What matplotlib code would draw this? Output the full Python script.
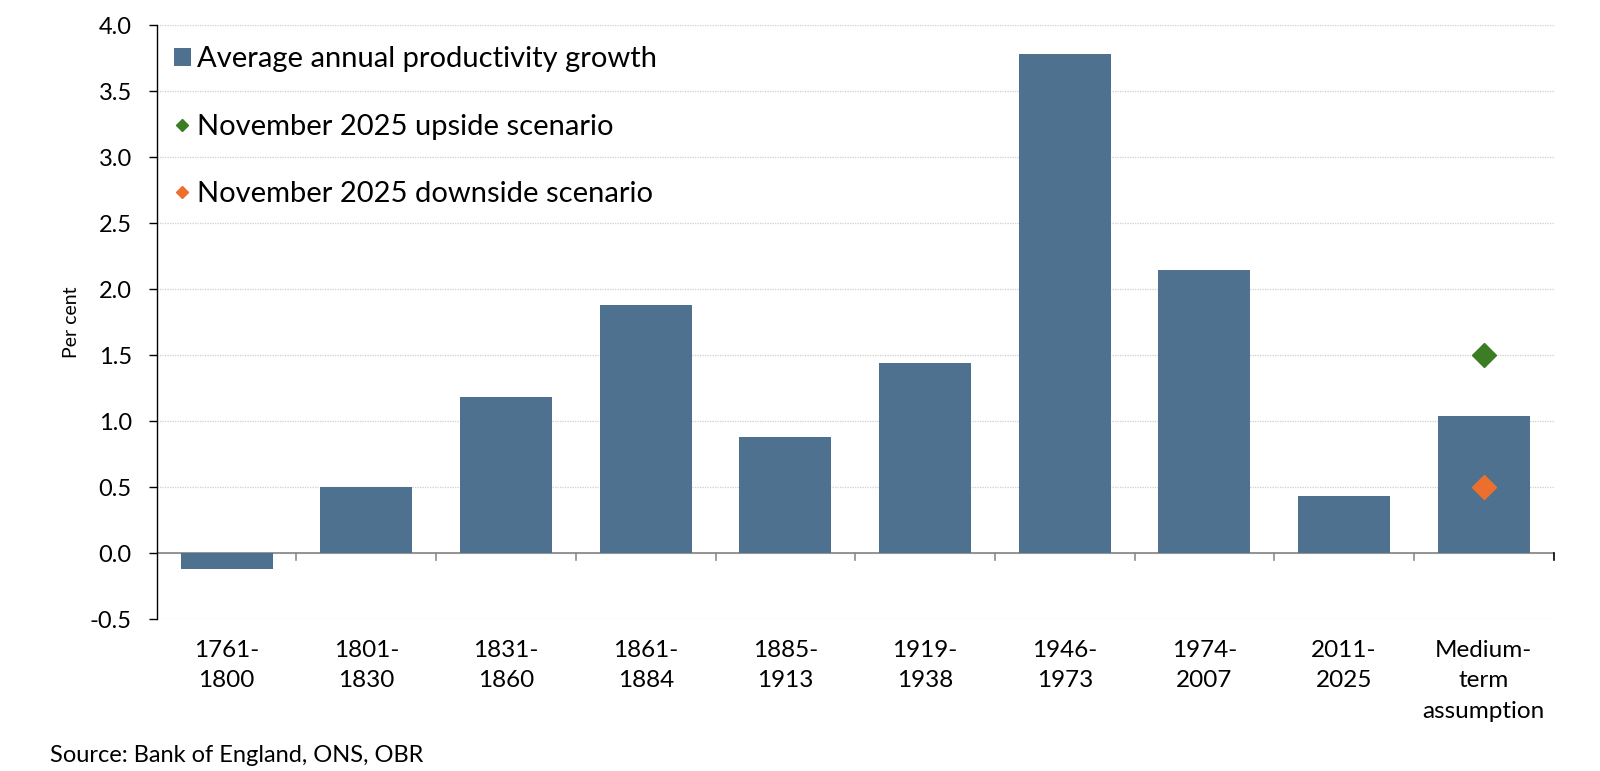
import matplotlib
matplotlib.use("Agg")
import matplotlib.pyplot as plt
from matplotlib.patches import Patch
from matplotlib.lines import Line2D
from matplotlib.ticker import MultipleLocator, FormatStrFormatter

plt.rcParams['font.family'] = ['Lato', 'DejaVu Sans']
plt.rcParams['axes.unicode_minus'] = False

periods = ['1761-\n1800', '1801-\n1830', '1831-\n1860', '1861-\n1884', '1885-\n1913',
           '1919-\n1938', '1946-\n1973', '1974-\n2007', '2011-\n2025', 'Medium-\nterm\nassumption']
growth = [-0.12, 0.50, 1.18, 1.88, 0.88, 1.44, 3.78, 2.15, 0.43, 1.04]
upside = 1.5
downside = 0.5

bar_col = '#4f7190'
up_col = '#3a7d23'
down_col = '#ec6f2d'

fig = plt.figure(figsize=(16, 7.71), dpi=100)
ax = fig.add_axes([0.098, 0.197, 0.873, 0.770])

x = list(range(len(periods)))
ax.bar(x, growth, width=0.66, color=bar_col, zorder=3)
last = x[-1]
ax.plot([last], [upside], 'D', color=up_col, markersize=12, zorder=4)
ax.plot([last], [downside], 'D', color=down_col, markersize=12, zorder=4)

ax.set_xlim(-0.5, len(periods) - 0.5)
ax.set_ylim(-0.5, 4.0)
ax.yaxis.set_major_locator(MultipleLocator(0.5))
ax.yaxis.set_major_formatter(FormatStrFormatter('%.1f'))
ax.grid(axis='y', color='#cfcfcf', linestyle=(0, (1, 1)), linewidth=0.9, zorder=0)

for s in ['top', 'right', 'bottom']:
    ax.spines[s].set_visible(False)
ax.spines['left'].set_color('black')
ax.spines['left'].set_linewidth(1.0)

# zero line with category separators
ax.axhline(0, color='#8c8c8c', linewidth=1.3, zorder=2)
for b in [i + 0.5 for i in x[:-1]]:
    ax.plot([b, b], [0, -0.05], color='#8c8c8c', linewidth=1.2, clip_on=False, zorder=2)
ax.plot([x[-1] + 0.5] * 2, [0, -0.05], color='black', linewidth=1.2, clip_on=False, zorder=2)

ax.set_xticks(x)
ax.set_xticklabels(periods, fontsize=17.5, linespacing=1.55, va='top')
ax.tick_params(axis='x', length=0, pad=15)
ax.tick_params(axis='y', length=6, width=1, direction='out', labelsize=17, pad=12)

ax.set_ylabel('Per cent', fontsize=14, labelpad=7)

handles = [Patch(facecolor=bar_col, edgecolor='none'),
           Line2D([], [], marker='D', color=up_col, linestyle='none', markersize=6),
           Line2D([], [], marker='D', color=down_col, linestyle='none', markersize=6)]
labels = ['Average annual productivity growth', 'November 2025 upside scenario',
          'November 2025 downside scenario']
ax.legend(handles, labels, loc='upper left', bbox_to_anchor=(0.012, 0.965), frameon=False,
          fontsize=21, handlelength=0.6, handleheight=0.6, handletextpad=0.2,
          labelspacing=1.42, borderpad=0, borderaxespad=0)

fig.text(0.031, 0.02, 'Source: Bank of England, ONS, OBR', fontsize=17, va='center')

fig.savefig('out.png', dpi=100)
